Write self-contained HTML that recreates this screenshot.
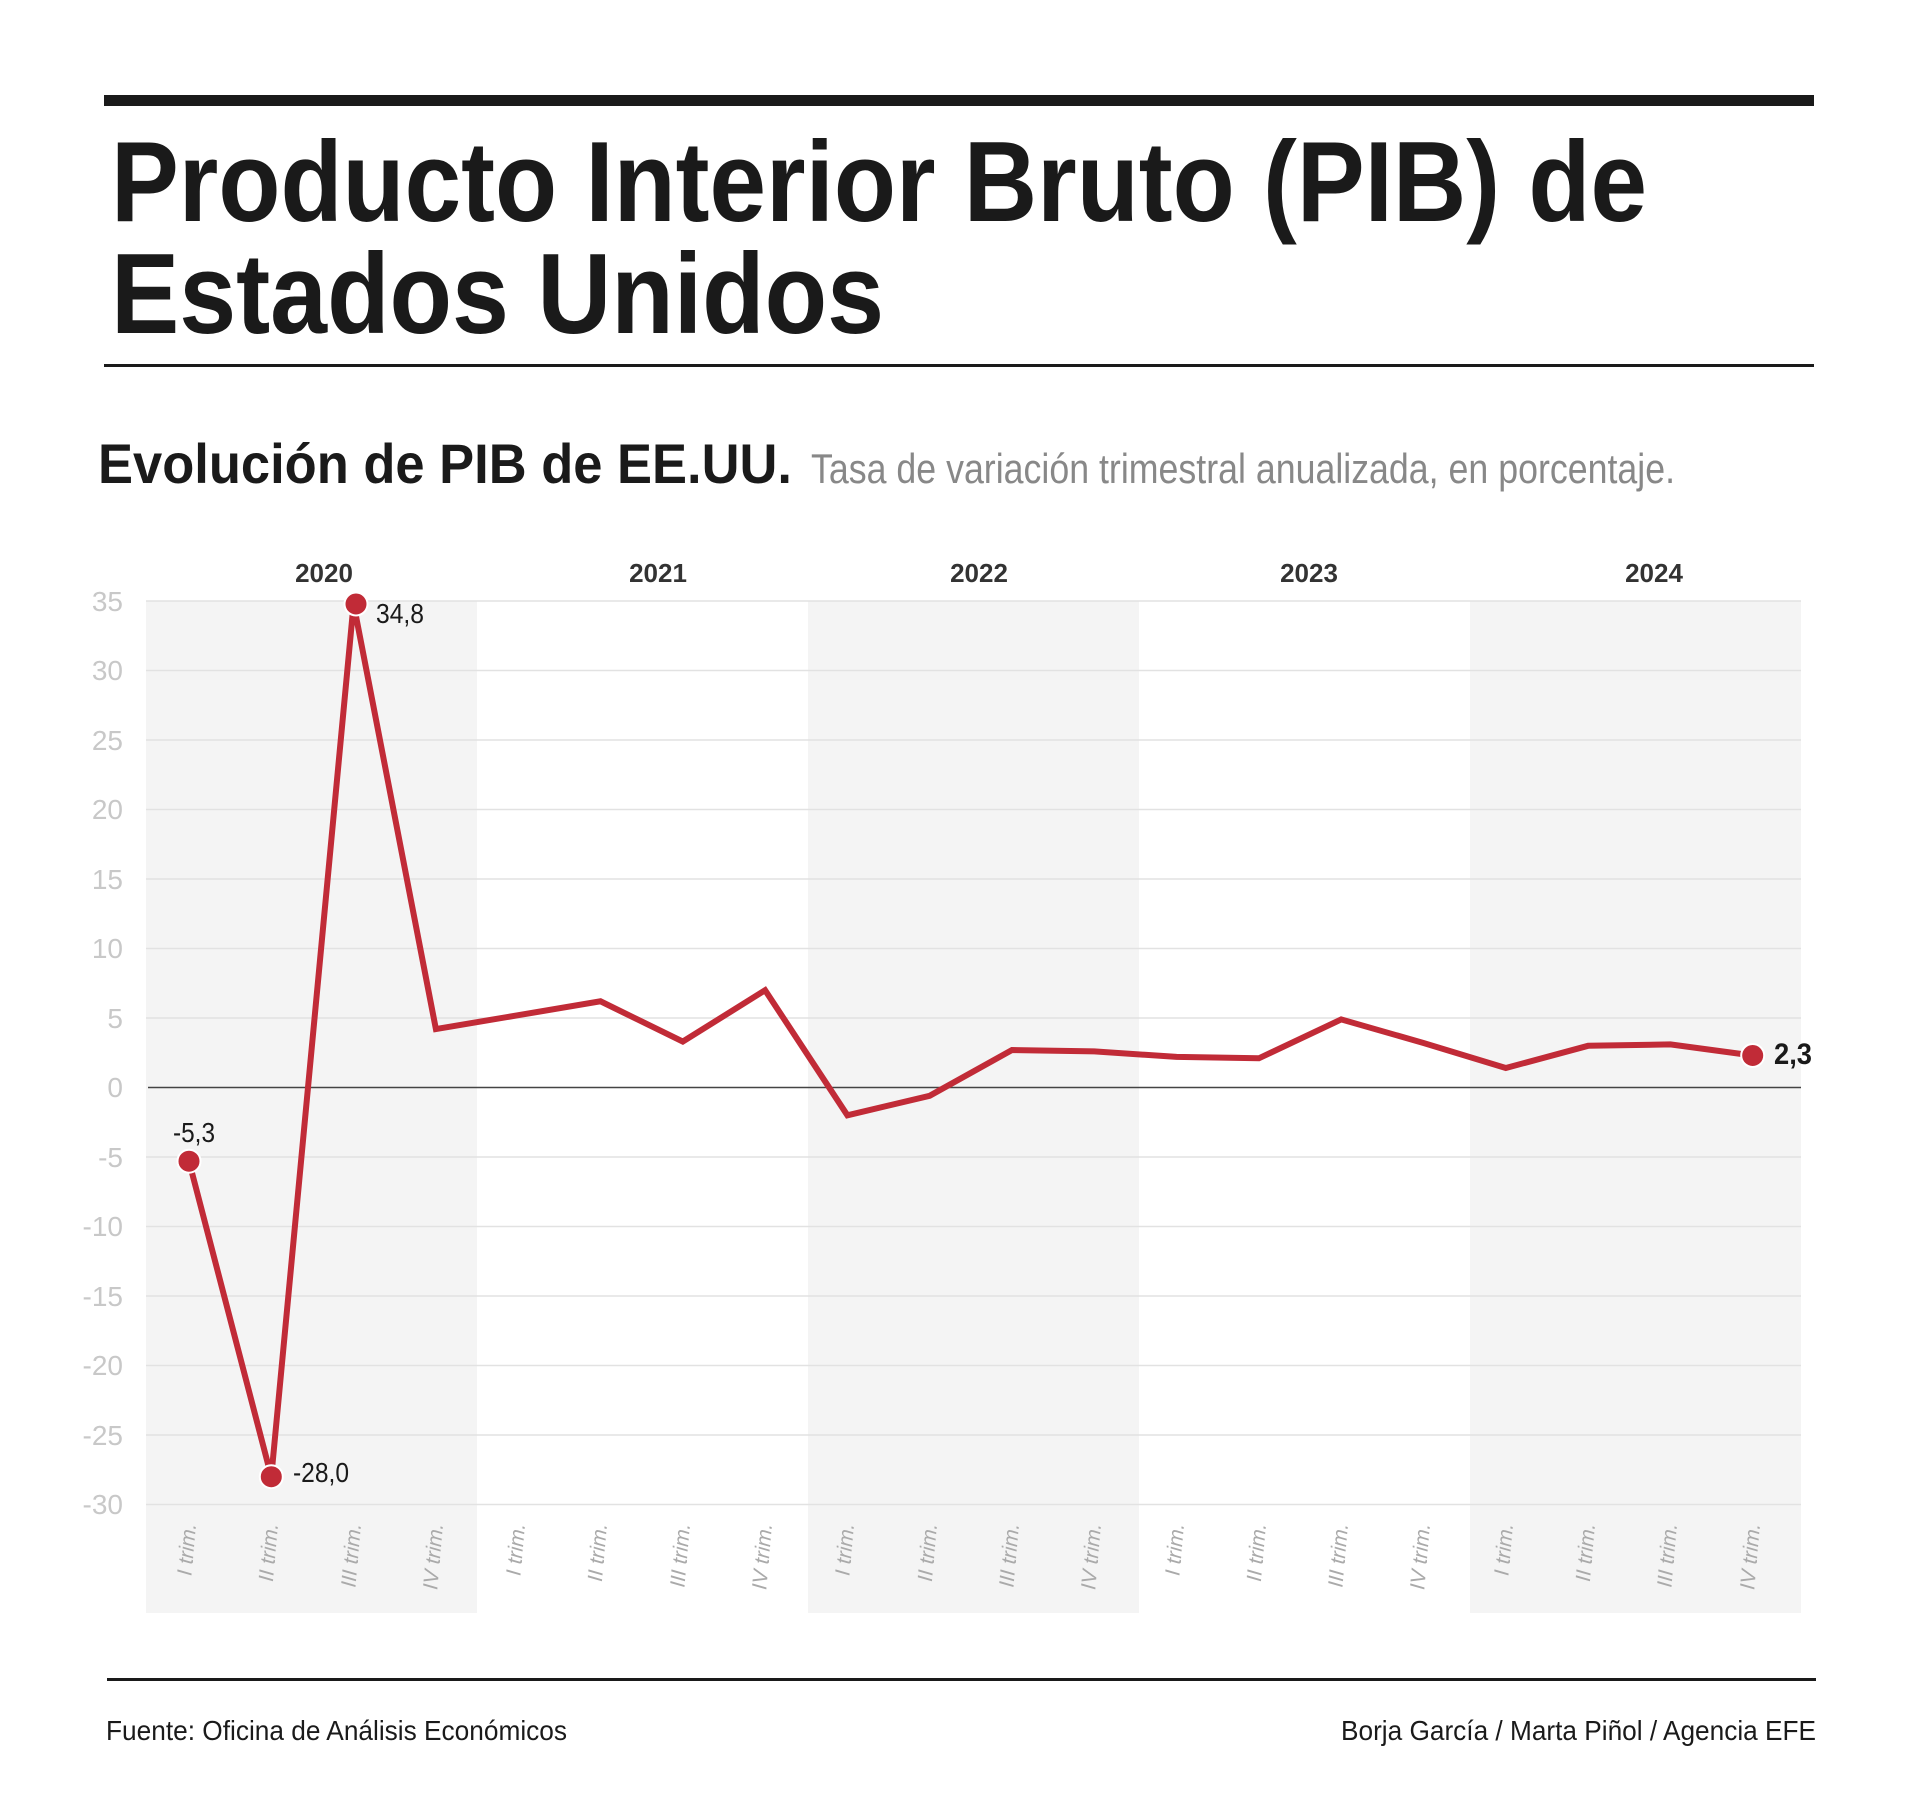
<!DOCTYPE html>
<html><head><meta charset="utf-8"><style>
html,body{margin:0;padding:0;background:#fff;}
svg{display:block;}
text{font-family:"Liberation Sans",Arial,sans-serif;}
</style></head><body>
<svg width="1920" height="1798" viewBox="0 0 1920 1798" xmlns="http://www.w3.org/2000/svg">
<rect x="0" y="0" width="1920" height="1798" fill="#fff"/>
<rect x="104" y="95" width="1710" height="11" fill="#1a1a1a"/>
<text x="111" y="221" font-size="114" font-weight="bold" fill="#1a1a1a" textLength="1536" lengthAdjust="spacingAndGlyphs">Producto Interior Bruto (PIB) de</text>
<text x="111" y="333" font-size="114" font-weight="bold" fill="#1a1a1a" textLength="773" lengthAdjust="spacingAndGlyphs">Estados Unidos</text>
<rect x="104" y="364" width="1710" height="3" fill="#1a1a1a"/>
<text x="98" y="483" font-size="56" font-weight="bold" fill="#1a1a1a" textLength="694" lengthAdjust="spacingAndGlyphs">Evolución de PIB de EE.UU.</text>
<text x="811" y="483" font-size="42" fill="#888" textLength="864" lengthAdjust="spacingAndGlyphs">Tasa de variación trimestral anualizada, en porcentaje.</text>
<g fill="#f4f4f4">
<rect x="146" y="601" width="331" height="1012"/>
<rect x="808" y="601" width="331" height="1012"/>
<rect x="1470" y="601" width="331" height="1012"/>
</g>
<g font-size="26" font-weight="bold" fill="#333" text-anchor="middle">
<text x="324" y="582">2020</text><text x="658" y="582">2021</text><text x="979" y="582">2022</text><text x="1309" y="582">2023</text><text x="1654" y="582">2024</text>
</g>
<g stroke="#e2e2e2" stroke-width="1.5">
<line x1="146" x2="1801" y1="601" y2="601"/><line x1="146" x2="1801" y1="670.5" y2="670.5"/><line x1="146" x2="1801" y1="740" y2="740"/><line x1="146" x2="1801" y1="809.5" y2="809.5"/><line x1="146" x2="1801" y1="879" y2="879"/><line x1="146" x2="1801" y1="948.5" y2="948.5"/><line x1="146" x2="1801" y1="1018" y2="1018"/><line x1="146" x2="1801" y1="1157" y2="1157"/><line x1="146" x2="1801" y1="1226.5" y2="1226.5"/><line x1="146" x2="1801" y1="1296" y2="1296"/><line x1="146" x2="1801" y1="1365.5" y2="1365.5"/><line x1="146" x2="1801" y1="1435" y2="1435"/><line x1="146" x2="1801" y1="1504.5" y2="1504.5"/>
</g>
<line x1="148" x2="1801" y1="1087.5" y2="1087.5" stroke="#444" stroke-width="1.5"/>
<g font-size="28" fill="#c8c8c8" text-anchor="end">
<text x="123" y="611">35</text><text x="123" y="680">30</text><text x="123" y="750">25</text><text x="123" y="819">20</text><text x="123" y="889">15</text><text x="123" y="958">10</text><text x="123" y="1028">5</text><text x="123" y="1097">0</text><text x="123" y="1167">-5</text><text x="123" y="1236">-10</text><text x="123" y="1306">-15</text><text x="123" y="1375">-20</text><text x="123" y="1445">-25</text><text x="123" y="1514">-30</text>
</g>
<g font-size="21" font-style="italic" fill="#aaa" text-anchor="end">
<text transform="translate(196,1524) rotate(-85)">I trim.</text>
<text transform="translate(278,1524) rotate(-85)">II trim.</text>
<text transform="translate(361,1524) rotate(-85)">III trim.</text>
<text transform="translate(443,1524) rotate(-85)">IV trim.</text>
<text transform="translate(525,1524) rotate(-85)">I trim.</text>
<text transform="translate(607,1524) rotate(-85)">II trim.</text>
<text transform="translate(690,1524) rotate(-85)">III trim.</text>
<text transform="translate(772,1524) rotate(-85)">IV trim.</text>
<text transform="translate(854,1524) rotate(-85)">I trim.</text>
<text transform="translate(937,1524) rotate(-85)">II trim.</text>
<text transform="translate(1019,1524) rotate(-85)">III trim.</text>
<text transform="translate(1101,1524) rotate(-85)">IV trim.</text>
<text transform="translate(1184,1524) rotate(-85)">I trim.</text>
<text transform="translate(1266,1524) rotate(-85)">II trim.</text>
<text transform="translate(1348,1524) rotate(-85)">III trim.</text>
<text transform="translate(1430,1524) rotate(-85)">IV trim.</text>
<text transform="translate(1513,1524) rotate(-85)">I trim.</text>
<text transform="translate(1595,1524) rotate(-85)">II trim.</text>
<text transform="translate(1677,1524) rotate(-85)">III trim.</text>
<text transform="translate(1760,1524) rotate(-85)">IV trim.</text>
</g>
<polyline fill="none" stroke="#c12b37" stroke-width="6" stroke-linejoin="miter" points="189,1161.2 271.3,1476.7 353.6,603.8 435.9,1029.1 518.2,1015.2 600.5,1001.3 682.8,1041.6 765.1,990.2 847.4,1115.3 929.7,1095.8 1012,1050 1094.3,1051.4 1176.6,1056.9 1258.9,1058.3 1341.2,1019.4 1423.5,1043 1505.8,1068 1588.1,1045.8 1670.4,1044.4 1752.7,1055.5"/>
<g fill="#c12b37" stroke="#fff" stroke-width="2">
<circle cx="189" cy="1161.2" r="11.5"/><circle cx="271.3" cy="1476.7" r="11.5"/><circle cx="356" cy="604" r="11.5"/><circle cx="1752.7" cy="1055.5" r="11.5"/>
</g>
<g font-size="28" fill="#1a1a1a">
<text x="173" y="1142" textLength="42" lengthAdjust="spacingAndGlyphs">-5,3</text>
<text x="293" y="1482" textLength="56" lengthAdjust="spacingAndGlyphs">-28,0</text>
<text x="376" y="623" textLength="48" lengthAdjust="spacingAndGlyphs">34,8</text>
<text x="1774" y="1064" font-size="30" font-weight="bold" textLength="38" lengthAdjust="spacingAndGlyphs">2,3</text>
</g>
<rect x="107" y="1678" width="1709" height="3" fill="#1a1a1a"/>
<text x="106" y="1740" font-size="28" fill="#1a1a1a" textLength="461" lengthAdjust="spacingAndGlyphs">Fuente: Oficina de Análisis Económicos</text>
<text x="1816" y="1740" font-size="28" fill="#1a1a1a" text-anchor="end" textLength="475" lengthAdjust="spacingAndGlyphs">Borja García / Marta Piñol / Agencia EFE</text>
</svg>
</body></html>
